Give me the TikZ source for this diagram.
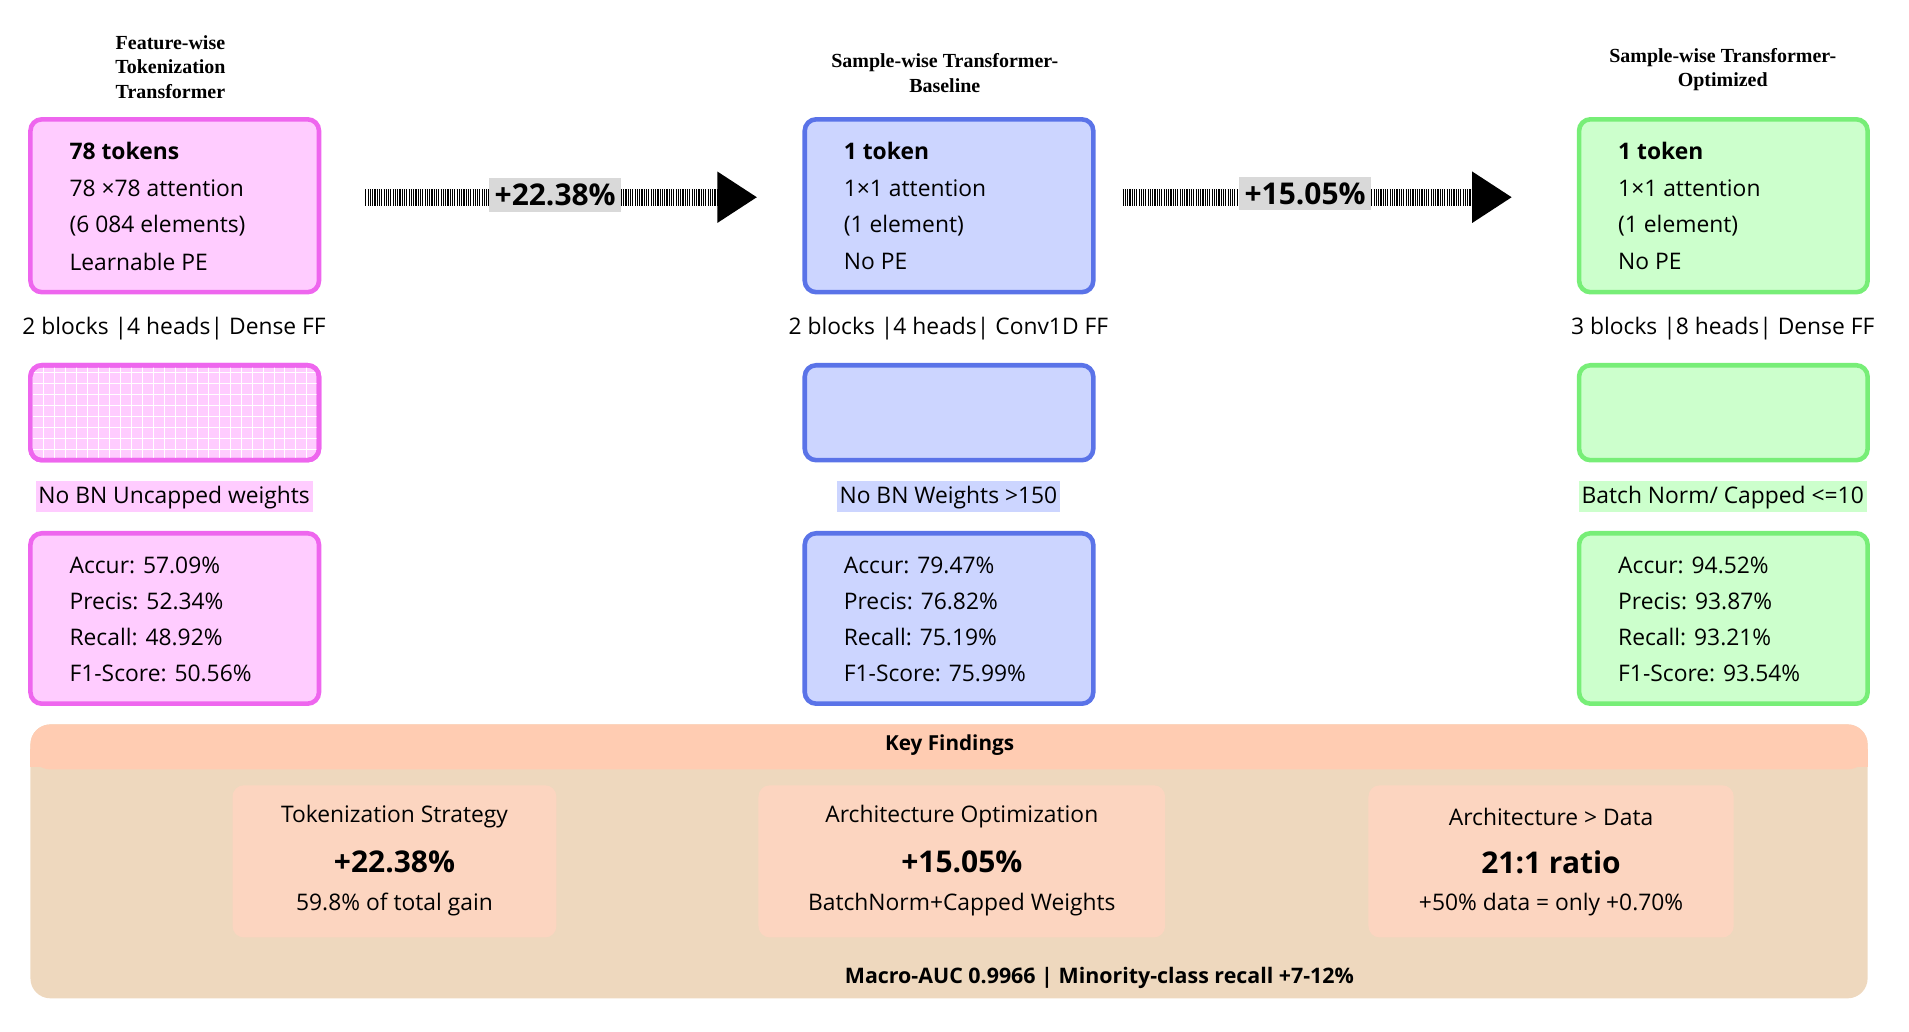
\documentclass[tikz,border=0pt]{standalone}
\usepackage{fontspec}
\setmainfont{Open Sans}
\newfontfamily\titlefont{Liberation Serif}
\usetikzlibrary{arrows.meta}
\definecolor{pinkf}{HTML}{FFCCFF}
\definecolor{pinkd}{HTML}{EE66EE}
\definecolor{bluef}{HTML}{CCD5FF}
\definecolor{blued}{HTML}{5A73E8}
\definecolor{greenf}{HTML}{CCFFCC}
\definecolor{greend}{HTML}{77EE77}
\definecolor{panel}{HTML}{EED8BE}
\definecolor{panelhead}{HTML}{FFCCB2}
\definecolor{card}{HTML}{FCD5C0}
\definecolor{gainbg}{HTML}{D9D9D9}
\tikzset{
  modelbox/.style={draw=#1d, fill=#1f, line width=3.2pt, rounded corners=8pt},
  boxtext/.style={anchor=west, font=\fontsize{16}{20}\selectfont},
  rowtext/.style={font=\fontsize{16}{20}\selectfont},
  titletext/.style={font=\titlefont\bfseries\fontsize{14}{17}\selectfont, align=center},
  gainarrow/.style={line width=12pt, dash pattern=on 0.8pt off 0.8pt, -{Triangle[length=28pt,width=34pt]}},
  gainlabel/.style={fill=gainbg, font=\bfseries\fontsize{21}{24}\selectfont, inner sep=4pt},
  cardbox/.style={fill=card, rounded corners=8pt},
}
\begin{document}
\begin{tikzpicture}[x=0.03cm,y=-0.03cm]
  \useasboundingbox (0,0) rectangle (1568,847);
  % titles
  \node[titletext] (t1) at (140,55) {Feature-wise\\Tokenization\\Transformer};
  \node[titletext] (t2) at (776,60) {Sample-wise Transformer-\\Baseline};
  \node[titletext] (t3) at (1415,57) {Sample-wise Transformer-\\Optimized};
  % model columns: left x / colour / top lines / row / bn / metrics
  \foreach \x/\c/\la/\lb/\lc/\ld/\row/\bn/\ma/\mb/\mc/\md in {
      25/pink/78 tokens/78 ×78 attention/(6 084 elements)/Learnable PE/{2 blocks |4 heads| Dense FF}/{No BN Uncapped weights}/57.09/52.34/48.92/50.56,
      661/blue/1 token/1×1 attention/(1 element)/No PE/{2 blocks |4 heads| Conv1D FF}/{No BN Weights >150}/79.47/76.82/75.19/75.99,
      1297/green/1 token/1×1 attention/(1 element)/No PE/{3 blocks |8 heads| Dense FF}/{Batch Norm/ Capped <=10}/94.52/93.87/93.21/93.54}
  {
    \draw[modelbox=\c] (\x,98) rectangle ++(237,142);
    \node[boxtext, font=\bfseries\fontsize{16}{20}\selectfont] at (\x+28,124) {\la};
    \node[boxtext] at (\x+28,155) {\lb};
    \node[boxtext] at (\x+28,185) {\lc};
    \node[boxtext] at (\x+28,215) {\ld};
    \node[rowtext] at (\x+118,270) {\row};
    \draw[modelbox=\c] (\x,300) rectangle ++(237,78);
    \node[rowtext, fill=\c f, inner sep=2pt, text height=14pt, text depth=4pt] at (\x+118,408) {\bn};
    \draw[modelbox=\c] (\x,438) rectangle ++(237,140);
    \node[boxtext] at (\x+28,464) {Accur: \ma\%};
    \node[boxtext] at (\x+28,494) {Precis: \mb\%};
    \node[boxtext] at (\x+28,523) {Recall: \mc\%};
    \node[boxtext] at (\x+28,553) {F1-Score: \md\%};
  }
  % grid on the first middle box
  \begin{scope}
    \clip[rounded corners=8pt] (25,300) rectangle ++(237,78);
    \draw[white, line width=0.6pt, step=0.27cm] (25,300) grid (262,378);
  \end{scope}
  \draw[modelbox=pink, fill=none] (25,300) rectangle ++(237,78);
  % gains
  \coordinate (a1) at (300,162);
  \coordinate (b1) at (622,162);
  \coordinate (a2) at (922,162);
  \coordinate (b2) at (1242,162);
  \draw[gainarrow] (a1) -- (b1);
  \draw[gainarrow] (a2) -- (b2);
  \node[gainlabel] (g1) at (456,160) {+22.38\%};
  \node[gainlabel] (g2) at (1072,159) {+15.05\%};
  % key findings
  \fill[panel, rounded corners=14pt] (25,595) rectangle (1534,820);
  \fill[panelhead, rounded corners=14pt] (25,595) rectangle (1534,632);
  \fill[panelhead] (25,615) rectangle (1534,630);
  \node[font=\bfseries\fontsize{14.5}{18}\selectfont] (kf) at (780,612) {Key Findings};
  \foreach \xa/\xb/\ha/\hb/\hc in {
      191/457/Tokenization Strategy/+22.38\%/59.8\% of total gain,
      623/957/Architecture Optimization/+15.05\%/BatchNorm+Capped Weights,
      1124/1424/{Architecture > Data}/21:1 ratio/+50\% data = only +0.70\%}
  {
    \fill[cardbox] (\xa,645) rectangle (\xb,770);
    \node[rowtext] at ({(\xa+\xb)/2},671) {\ha};
    \node[font=\bfseries\fontsize{21}{24}\selectfont] at ({(\xa+\xb)/2},708) {\hb};
    \node[rowtext] at ({(\xa+\xb)/2},743) {\hc};
  }
  \node[font=\bfseries\fontsize{15}{18}\selectfont] (auc) at (903,803) {Macro-AUC 0.9966 | Minority-class recall +7-12\%};
\end{tikzpicture}
\end{document}
